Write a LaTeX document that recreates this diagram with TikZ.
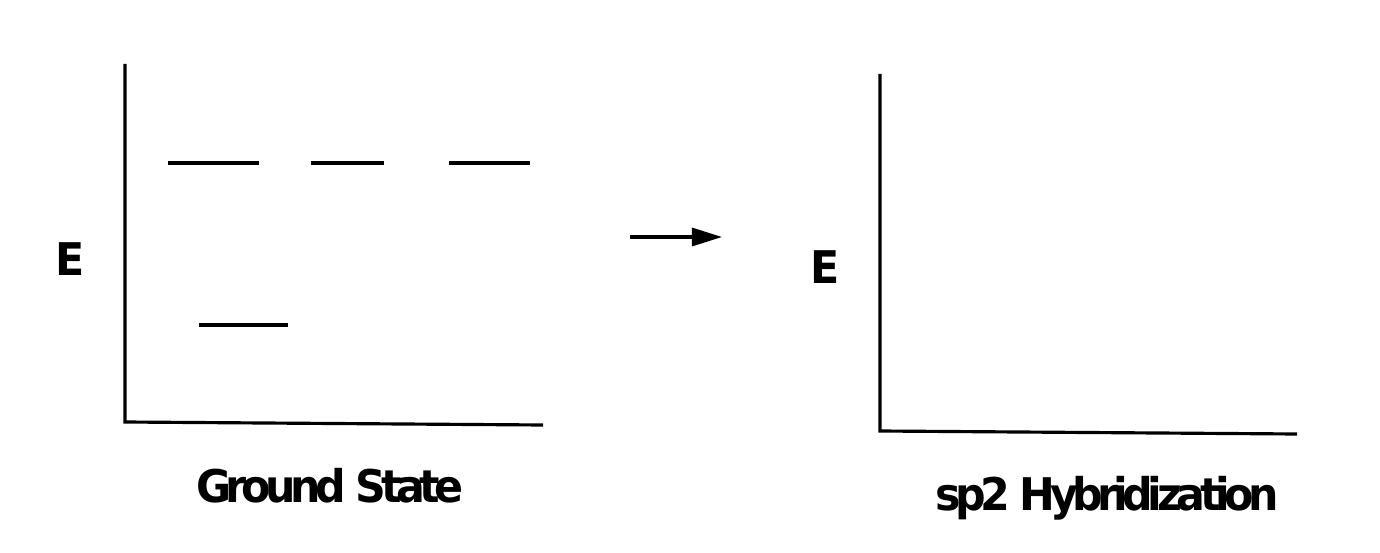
\documentclass[tikz,border=0pt]{standalone}
\usepackage{fontspec}
\setmainfont{DejaVu Sans}
\newfontfamily\labelfont[LetterSpace=-12, FakeStretch=0.95]{DejaVu Sans}
\usepackage{tikz}
\usetikzlibrary{positioning,arrows.meta}

\begin{document}
\begin{tikzpicture}[x=0.01cm, y=-0.01cm,
						% Define styles for the axes, levels and labels
						axis style/.style={line width=0.9pt},
						level style/.style={line width=0.9pt},
						label style/.style={font=\labelfont\bfseries\fontsize{12.8}{14}\selectfont, inner sep=0pt}
						]
						
						% Fix the page size
						\useasboundingbox (0,0) rectangle (1380,552);
						
						% --- Ground state ---
						\draw[axis style] (125,64) -- (125,422) -- (543,425);
						\draw[level style] (168,163) -- (259,163);
						\draw[level style] (311,163) -- (384,163);
						\draw[level style] (449,163) -- (530,163);
						\draw[level style] (199,325) -- (288,325);
						\node[label style] (E1) at (70,259) {E};
						\node[label style] (ground) at (330,486) {Ground State};
						
						% --- Arrow ---
						\coordinate (start) at (630,237);
						\coordinate (end) at (722,237);
						\draw[line width=0.9pt, -{Triangle[length=0.3cm, width=0.18cm]}] (start) -- (end);
						
						% --- sp2 hybridization ---
						\draw[axis style] (880,74) -- (880,431) -- (1297,434);
						\node[label style] (E2) at (825,267) {E};
						\node[label style] (hybrid) at (1107,498) {sp2 Hybridization};
					\end{tikzpicture}
\end{document}
